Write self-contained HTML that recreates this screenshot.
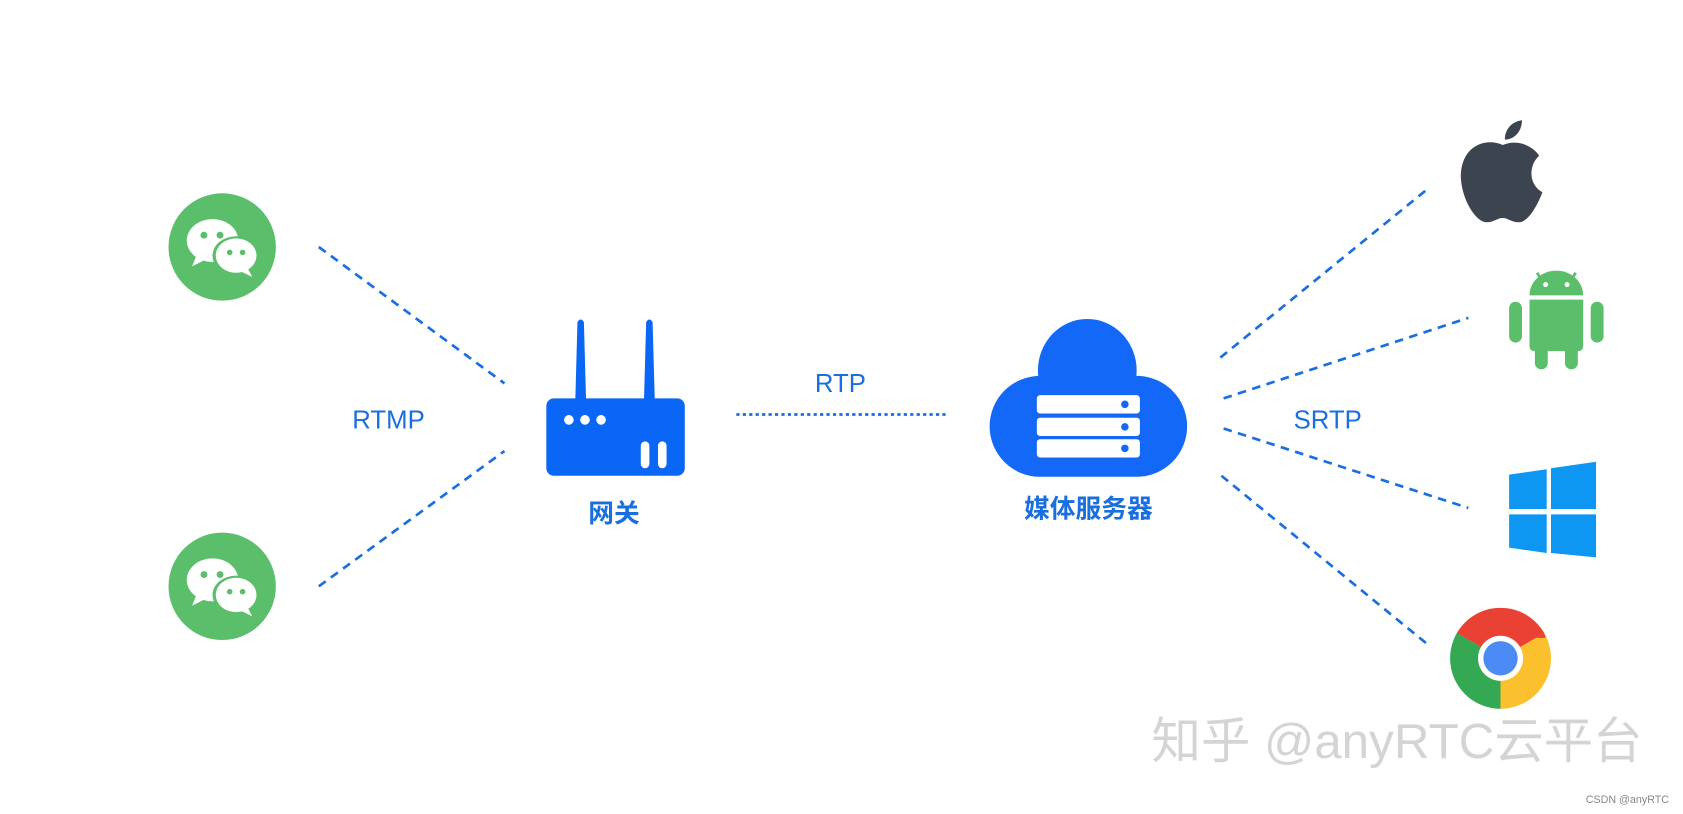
<!DOCTYPE html>
<html><head><meta charset="utf-8"><style>
html,body{margin:0;padding:0;background:#fff;width:1683px;height:814px;overflow:hidden}
svg{display:block}
text{font-family:"Liberation Sans","Noto Sans CJK SC",sans-serif}
</style></head><body>
<svg width="1683" height="814" viewBox="0 0 1568 758" preserveAspectRatio="none" xmlns="http://www.w3.org/2000/svg">
<rect width="1568" height="758" fill="#fff"/>
<defs>
<g id="wx">
<circle cx="0" cy="0" r="50" fill="#5BBE6A"/>
<ellipse cx="-9" cy="-6" rx="24" ry="20" fill="#fff"/>
<path d="M-24,8 L-28,18 L-14,11Z" fill="#fff"/>
<circle cx="-17" cy="-11" r="3.2" fill="#5BBE6A"/>
<circle cx="-2" cy="-11" r="3.2" fill="#5BBE6A"/>
<ellipse cx="13" cy="8" rx="22" ry="18" fill="#5BBE6A"/>
<ellipse cx="13" cy="8" rx="19" ry="16" fill="#fff"/>
<path d="M24,20 L28,28 L18,23Z" fill="#fff"/>
<circle cx="7" cy="5" r="2.6" fill="#5BBE6A"/>
<circle cx="19" cy="5" r="2.6" fill="#5BBE6A"/>
</g>
</defs>
<use href="#wx" x="207" y="230"/>
<use href="#wx" x="207" y="546"/>
<g stroke="#1A6FE0" stroke-width="2.5" stroke-dasharray="8,6" fill="none">
<line x1="297" y1="230" x2="470" y2="357"/>
<line x1="297" y1="546" x2="470" y2="420"/>
<line x1="1137" y1="333" x2="1330" y2="176"/>
<line x1="1140" y1="371" x2="1368" y2="296"/>
<line x1="1140" y1="399" x2="1368" y2="473"/>
<line x1="1138" y1="443" x2="1330" y2="600"/>
</g>
<line x1="686" y1="386" x2="883" y2="386" stroke="#1A6FE0" stroke-width="2.5" stroke-dasharray="3,3"/>
<g fill="#1A6FE0" font-size="24" text-anchor="middle">
<text x="362" y="399">RTMP</text>
<text x="783" y="365">RTP</text>
<text x="1237" y="399">SRTP</text>
<text x="572" y="486" font-weight="bold">网关</text>
<text x="1014" y="482" font-weight="bold">媒体服务器</text>
</g>
<!-- router -->
<g fill="#0A66F5">
<path d="M536,372 L538,300 Q541,295 544,300 L546,372Z"/>
<path d="M600,372 L602,300 Q605,295 608,300 L610,372Z"/>
<rect x="509" y="371" width="129" height="72" rx="7"/>
</g>
<g fill="#fff">
<circle cx="530" cy="391" r="4.5"/><circle cx="545" cy="391" r="4.5"/><circle cx="560" cy="391" r="4.5"/>
<rect x="597" y="411" width="8" height="25" rx="4"/><rect x="613" y="411" width="8" height="25" rx="4"/>
</g>
<!-- cloud -->
<g fill="#1368F8">
<ellipse cx="1013" cy="345" rx="46" ry="48"/>
<rect x="922" y="350" width="184" height="94" rx="47"/>
</g>
<g fill="#fff">
<rect x="966" y="368" width="96" height="17" rx="3"/>
<rect x="966" y="389" width="96" height="17" rx="3"/>
<rect x="966" y="409" width="96" height="17" rx="3"/>
</g>
<g fill="#1368F8"><circle cx="1048" cy="376.5" r="3.5"/><circle cx="1048" cy="397.5" r="3.5"/><circle cx="1048" cy="417.5" r="3.5"/></g>
<!-- apple -->
<g fill="#3C4450">
<path d="M1400,135 C1385,128 1362,135 1361,163 C1361,185 1375,207 1385,207 C1392,207 1395,203 1400,203 C1405,203 1408,207 1415,207 C1424,207 1433,190 1437,179 C1425,173 1423,155 1434,145 C1428,136 1414,129 1400,135Z"/>
<path d="M1402,130 C1402,120 1409,113 1418,112 C1418,122 1411,130 1402,130Z"/>
</g>
<!-- android -->
<g fill="#5BBE6A">
<path d="M1425,275 A25,23 0 0 1 1475,275 Z"/>
<line x1="1432" y1="254" x2="1437" y2="262" stroke="#5BBE6A" stroke-width="2.5"/>
<line x1="1468" y1="254" x2="1463" y2="262" stroke="#5BBE6A" stroke-width="2.5"/>
<path d="M1425,279 H1475 V322 Q1475,327 1470,327 H1430 Q1425,327 1425,322Z"/>
<rect x="1406" y="281" width="12" height="38" rx="6"/>
<rect x="1482" y="281" width="12" height="38" rx="6"/>
<rect x="1430" y="318" width="12" height="26" rx="6"/>
<rect x="1458" y="318" width="12" height="26" rx="6"/>
</g>
<circle cx="1440" cy="265" r="2.3" fill="#fff"/><circle cx="1460" cy="265" r="2.3" fill="#fff"/>
<!-- windows -->
<g fill="#0D96F2">
<path d="M1406,442 L1441,437 V474 H1406Z"/>
<path d="M1445,436 L1487,430 V474 H1445Z"/>
<path d="M1406,479 H1441 V515 L1406,510Z"/>
<path d="M1445,479 H1487 V519 L1445,515Z"/>
</g>
<!-- chrome -->
<g>
<path d="M1398,613 L1357.3,589.5 A47,47 0 0 1 1438.7,589.5 Z" fill="#E94235"/>
<path d="M1398,613 L1357.3,589.5 A47,47 0 0 0 1398,660 Z" fill="#34A853"/>
<path d="M1398,613 L1438.7,589.5 A47,47 0 0 1 1398,660 Z" fill="#FBC02D"/>
<path d="M1398,594 H1440 L1438.7,589.5 L1398,613Z" fill="#E94235"/>
<path d="M1381,622 L1357.3,589.5 L1398,613Z" fill="#34A853"/>
<path d="M1415,623 L1398,660 L1398,613Z" fill="#FBC02D"/>
<circle cx="1398" cy="613" r="21" fill="#fff"/>
<circle cx="1398" cy="613" r="16" fill="#4C8BF5"/>
</g>
<text x="1073" y="706" font-size="46" fill="#cfcfcf" fill-opacity="0.9">知乎 @anyRTC云平台</text>
<text x="1555" y="748" font-size="10" fill="#888" text-anchor="end">CSDN @anyRTC</text>
</svg>
</body></html>
